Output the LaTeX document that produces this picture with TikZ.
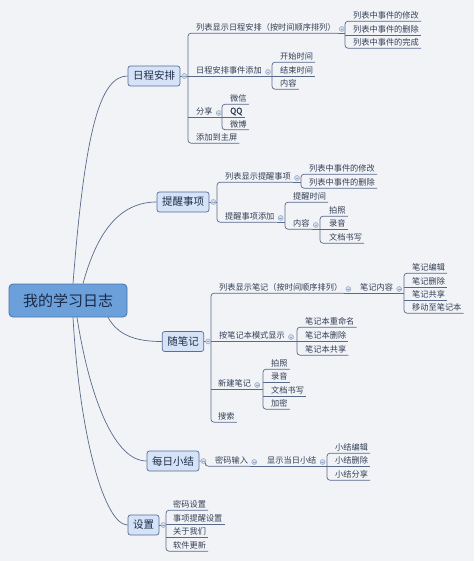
\documentclass[tikz,border=0pt]{standalone}
\usepackage{fontspec}
\newfontfamily\cjk{Noto Sans CJK SC}
\newfontfamily\cjkfb[FakeBold=2]{Noto Sans CJK SC}
\definecolor{bgc}{RGB}{241,243,247}
\definecolor{linec}{RGB}{88,106,138}
\definecolor{txtc}{RGB}{50,62,84}
\definecolor{boxf}{RGB}{214,226,246}
\definecolor{boxd}{RGB}{82,112,160}
\definecolor{boxt}{RGB}{30,46,74}
\definecolor{rootf}{RGB}{108,160,218}
\definecolor{rootd}{RGB}{70,115,175}
\definecolor{roott}{RGB}{24,42,72}
\definecolor{foldf}{RGB}{214,222,236}
\definecolor{foldd}{RGB}{150,167,196}
\begin{document}
\begin{tikzpicture}[x=1pt,y=-1pt,
  leaf/.style={anchor=west, font={\cjk\fontsize{8.2}{9}\selectfont}, text=txtc, inner xsep=2pt, inner ysep=0pt, minimum height=11pt},
  topic/.style={draw=boxd, fill=boxf, rounded corners=2.5pt, line width=0.7pt, font={\cjk\fontsize{10.5}{12}\selectfont}, text=boxt, inner xsep=5pt, inner ysep=0pt, minimum height=20pt},
  root/.style={draw=rootd, fill=rootf, rounded corners=4pt, line width=0.8pt, font={\cjk\fontsize{15}{18}\selectfont}, text=roott, minimum width=118pt, minimum height=33pt, inner sep=0pt},
  conn/.style={draw=linec, line width=0.7pt},
  brk/.style={conn, rounded corners=3pt},
  foldc/.style={circle, draw=foldd, fill=foldf, line width=0.5pt, minimum size=5pt, inner sep=0pt,
    path picture={\draw[foldd, line width=0.5pt] ([xshift=1.2pt]path picture bounding box.west) -- ([xshift=-1.2pt]path picture bounding box.east);}},
  lfold/.style={foldc},
]
\fill[bgc] (0,0) rectangle (474,561);
\useasboundingbox (0,0) rectangle (474,561);

% root
\node[root] (r) at (68,300.5) {我的学习日志};

% ---- group 1
\node[topic] (s1) at (154,76) {日程安排};
\coordinate (b1) at (188,0);
\node[leaf] (a1) at (194,27.5) {列表显示日程安排（按时间顺序排列）};
\node[leaf] (a2) at (194,70.5) {日程安排事件添加};
\node[leaf] (a3) at (194,111.5) {分享};
\node[leaf] (a4) at (194,137.5) {添加到主屏};
\coordinate (b11) at (345,0);
\node[leaf] (a11) at (351,15.5) {列表中事件的修改};
\node[leaf] (a12) at (351,29.5) {列表中事件的删除};
\node[leaf] (a13) at (351,42.5) {列表中事件的完成};
\coordinate (b12) at (272,0);
\node[leaf] (a21) at (278,56.5) {开始时间};
\node[leaf] (a22) at (278,70.5) {结束时间};
\node[leaf] (a23) at (278,83.5) {内容};
\coordinate (b13) at (222,0);
\node[leaf] (a31) at (228,98.5) {微信};
\node[leaf, font={\cjkfb\fontsize{8.2}{9}\selectfont}] (a32) at (228,111.5) {QQ};
\node[leaf] (a33) at (228,124) {微博};

% ---- group 2
\node[topic] (s2) at (183,202) {提醒事项};
\coordinate (b2) at (217,0);
\node[leaf] (e1) at (223,176.5) {列表显示提醒事项};
\node[leaf] (e2) at (223,216.5) {提醒事项添加};
\coordinate (b21) at (301,0);
\node[leaf] (e11) at (307,168.5) {列表中事件的修改};
\node[leaf] (e12) at (307,182.5) {列表中事件的删除};
\coordinate (b22) at (285,0);
\node[leaf] (e21) at (291,196.5) {提醒时间};
\node[leaf] (e22) at (291,223.5) {内容};
\coordinate (b221) at (320,0);
\node[leaf] (e221) at (327,210.5) {拍照};
\node[leaf] (e222) at (327,223.5) {录音};
\node[leaf] (e223) at (327,237.5) {文档书写};

% ---- group 3
\node[topic] (s3) at (183,341.5) {随笔记};
\coordinate (b3) at (211,0);
\node[leaf] (g1) at (217,287.5) {列表显示笔记（按时间顺序排列）};
\node[leaf] (g11) at (358,287.5) {笔记内容};
\coordinate (b31) at (404,0);
\node[leaf] (g111) at (410,267.5) {笔记编辑};
\node[leaf] (g112) at (410,281.5) {笔记删除};
\node[leaf] (g113) at (410,294.5) {笔记共享};
\node[leaf] (g114) at (410,307.5) {移动至笔记本};
\node[leaf] (g2) at (217,335.5) {按笔记本模式显示};
\coordinate (b32) at (297,0);
\node[leaf] (g21) at (303,321.5) {笔记本重命名};
\node[leaf] (g22) at (303,335.5) {笔记本删除};
\node[leaf] (g23) at (303,349.5) {笔记本共享};
\node[leaf] (g3) at (216,383.5) {新建笔记};
\coordinate (b33) at (263,0);
\node[leaf] (g31) at (269,363.5) {拍照};
\node[leaf] (g32) at (269,376.5) {录音};
\node[leaf] (g33) at (269,390.5) {文档书写};
\node[leaf] (g34) at (269,403.5) {加密};
\node[leaf] (g4) at (216,416.5) {搜索};

% ---- group 4
\node[topic] (s4) at (173,461) {每日小结};
\node[leaf] (h1) at (213,460.5) {密码输入};
\node[leaf] (h2) at (265,460.5) {显示当日小结};
\coordinate (b4) at (327,0);
\node[leaf] (h21) at (333,447.5) {小结编辑};
\node[leaf] (h22) at (333,460.5) {小结删除};
\node[leaf] (h23) at (333,474.5) {小结分享};

% ---- group 5
\node[topic] (s5) at (143.5,525) {设置};
\coordinate (b5) at (166,0);
\node[leaf] (k1) at (171,504.5) {密码设置};
\node[leaf] (k2) at (171,518.5) {事项提醒设置};
\node[leaf] (k3) at (171,531.5) {关于我们};
\node[leaf] (k4) at (171,545.5) {软件更新};

% ===== connectors from root
\draw[conn] ([xshift=5pt]r.north) .. controls (85,130) and (100,76) .. (s1.west);
\draw[conn] ([xshift=15pt]r.north) .. controls (95,240) and (115,202) .. (s2.west);
\draw[conn] ([xshift=40pt]r.south) .. controls (118,335) and (135,341.5) .. (s3.west);
\draw[conn] ([xshift=9pt]r.south) .. controls (90,400) and (115,461) .. (s4.west);
\draw[conn] ([xshift=5pt]r.south) .. controls (80,440) and (105,525) .. (s5.west);

% ===== group 1
\draw[conn] (s1.east) -- (s1.east -| b1);
\draw[brk] (a1.south east) -- (a1.south -| b1) -- (a4.south -| b1) -- (a4.south east);
\draw[conn] (a2.south -| b1) -- (a2.south east);
\draw[conn] (a3.south -| b1) -- (a3.south east);
\draw[conn] (a1.south east) -- (a1.south -| b11);
\draw[brk] (a11.south east) -- (a11.south -| b11) -- (a13.south -| b11) -- (a13.south east);
\draw[conn] (a12.south -| b11) -- (a12.south east);
\draw[conn] (a2.south east) -- (a2.south -| b12);
\draw[brk] (a21.south east) -- (a21.south -| b12) -- (a23.south -| b12) -- (a23.south east);
\draw[conn] (a22.south -| b12) -- (a22.south east);
\draw[conn] (a3.south east) -- (a3.south -| b13);
\draw[brk] (a31.south east) -- (a31.south -| b13) -- (a33.south -| b13) -- (a33.south east);
\draw[conn] (a32.south -| b13) -- (a32.south east);

% ===== group 2
\draw[conn] (s2.east) -- (s2.east -| b2);
\draw[brk] (e1.south east) -- (e1.south -| b2) -- (e2.south -| b2) -- (e2.south east);
\draw[conn] (e1.south east) -- (e1.south -| b21);
\draw[brk] (e11.south east) -- (e11.south -| b21) -- (e12.south -| b21) -- (e12.south east);
\draw[conn] (e2.south east) -- (e2.south -| b22);
\draw[brk] (e21.south east) -- (e21.south -| b22) -- (e22.south -| b22) -- (e22.south east);
\draw[conn] (e22.south east) -- (e22.south -| b221);
\draw[brk] (e221.south east) -- (e221.south -| b221) -- (e223.south -| b221) -- (e223.south east);
\draw[conn] (e222.south -| b221) -- (e222.south east);

% ===== group 3
\draw[conn] (s3.east) -- (s3.east -| b3);
\draw[brk] (g1.south east) -- (g1.south -| b3) -- (g4.south -| b3) -- (g4.south east);
\draw[conn] (g2.south -| b3) -- (g2.south east);
\draw[conn] (g3.south -| b3) -- (g3.south east);
\draw[conn] (g1.south east) -- (g11.south east);
\draw[conn] (g11.south east) -- (g11.south -| b31);
\draw[brk] (g111.south east) -- (g111.south -| b31) -- (g114.south -| b31) -- (g114.south east);
\draw[conn] (g112.south -| b31) -- (g112.south east);
\draw[conn] (g113.south -| b31) -- (g113.south east);
\draw[conn] (g2.south east) -- (g2.south -| b32);
\draw[brk] (g21.south east) -- (g21.south -| b32) -- (g23.south -| b32) -- (g23.south east);
\draw[conn] (g22.south -| b32) -- (g22.south east);
\draw[conn] (g3.south east) -- (g3.south -| b33);
\draw[brk] (g31.south east) -- (g31.south -| b33) -- (g34.south -| b33) -- (g34.south east);
\draw[conn] (g32.south -| b33) -- (g32.south east);
\draw[conn] (g33.south -| b33) -- (g33.south east);

% ===== group 4
\draw[brk] (s4.east) -- ([xshift=6pt]s4.east) |- (h1.south east);
\draw[conn] (h1.south east) -- (h2.south east);
\draw[conn] (h2.south east) -- (h2.south -| b4);
\draw[brk] (h21.south east) -- (h21.south -| b4) -- (h23.south -| b4) -- (h23.south east);
\draw[conn] (h22.south -| b4) -- (h22.south east);

% ===== group 5
\draw[conn] (s5.east) -- (s5.east -| b5);
\draw[brk] (k1.south east) -- (k1.south -| b5) -- (k4.south -| b5) -- (k4.south east);
\draw[conn] (k2.south -| b5) -- (k2.south east);
\draw[conn] (k3.south -| b5) -- (k3.south east);

% ===== fold markers
\node[foldc] (fs1) at ([xshift=4pt]s1.east) {};
\node[foldc] (fs2) at ([xshift=4pt]s2.east) {};
\node[foldc] (fs3) at ([xshift=4pt]s3.east) {};
\node[foldc] (fs4) at ([xshift=4pt]s4.east) {};
\node[foldc] (fs5) at ([xshift=4pt]s5.east) {};
\node[lfold] (fa1) at ([xshift=4pt,yshift=-1.5pt]a1.east) {};
\node[lfold] (fa2) at ([xshift=4pt,yshift=-1.5pt]a2.east) {};
\node[lfold] (fa3) at ([xshift=4pt,yshift=-1.5pt]a3.east) {};
\node[lfold] (fe1) at ([xshift=4pt,yshift=-1.5pt]e1.east) {};
\node[lfold] (fe2) at ([xshift=4pt,yshift=-1.5pt]e2.east) {};
\node[lfold] (fe22) at ([xshift=4pt,yshift=-1.5pt]e22.east) {};
\node[lfold] (fg1) at ([xshift=4pt,yshift=-1.5pt]g1.east) {};
\node[lfold] (fg11) at ([xshift=4pt,yshift=-1.5pt]g11.east) {};
\node[lfold] (fg2) at ([xshift=4pt,yshift=-1.5pt]g2.east) {};
\node[lfold] (fg3) at ([xshift=4pt,yshift=-1.5pt]g3.east) {};
\node[lfold] (fh1) at ([xshift=4pt,yshift=-1.5pt]h1.east) {};
\node[lfold] (fh2) at ([xshift=4pt,yshift=-1.5pt]h2.east) {};
\end{tikzpicture}
\end{document}
